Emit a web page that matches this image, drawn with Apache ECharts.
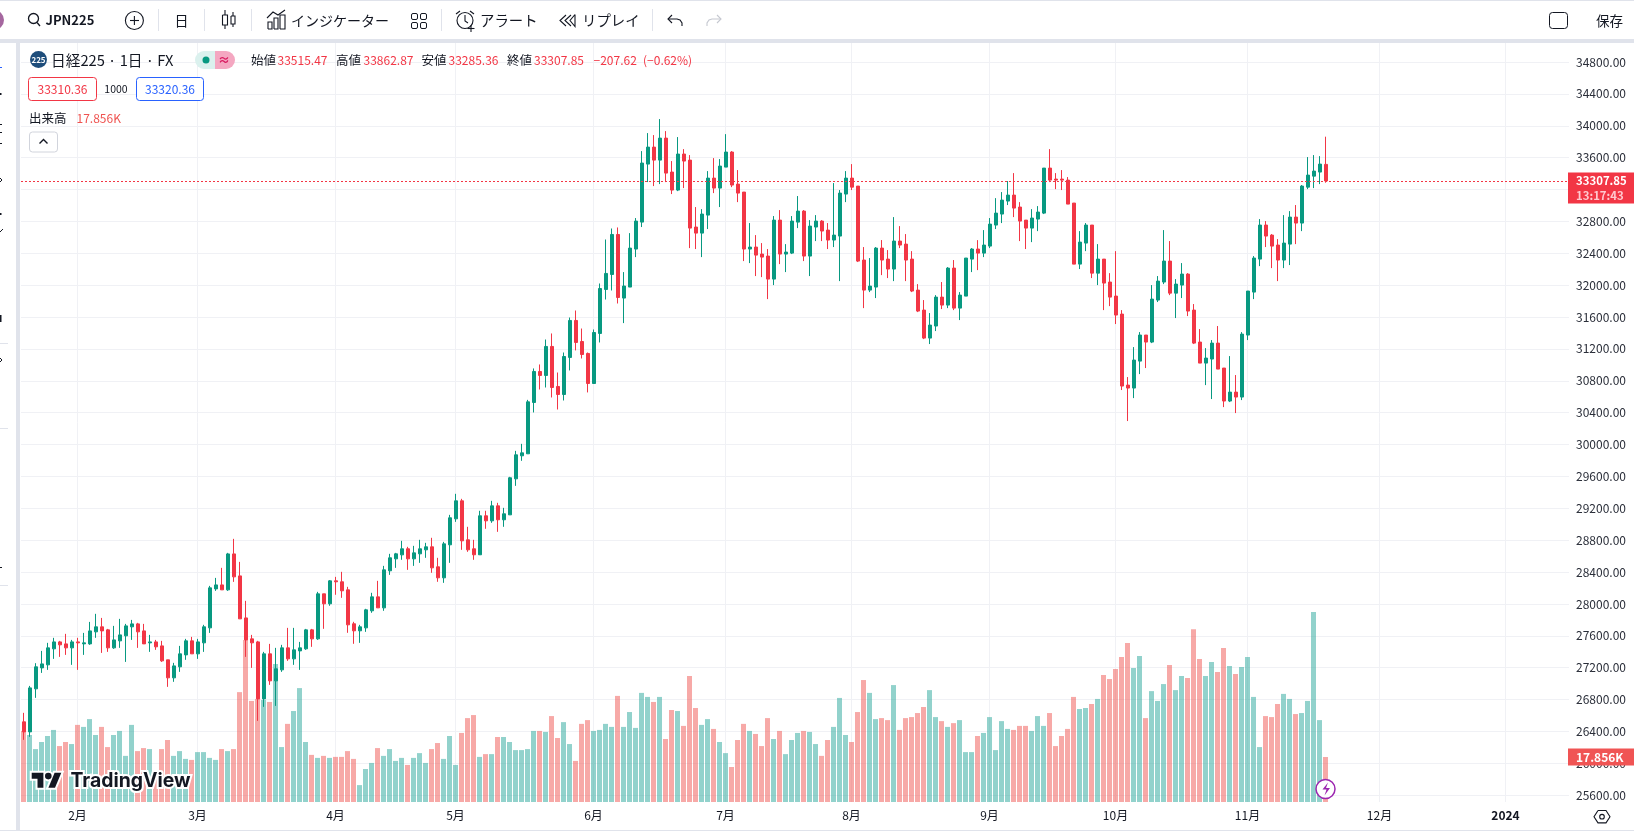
<!DOCTYPE html>
<html>
<head>
<meta charset="utf-8">
<title>日経225</title>
<script src="https://cdn.jsdelivr.net/npm/echarts@6/dist/echarts.min.js"></script>
<style>
html, body { margin: 0; padding: 0; background: #fff; overflow: hidden; }
#main { width: 1634px; height: 831px; }
</style>
</head>
<body>
<div id="main"></div>
<script>
var monthStarts = ['2023-02-01','2023-03-01','2023-04-03','2023-05-01','2023-06-01','2023-07-03','2023-08-01','2023-09-01','2023-10-02','2023-11-01','2023-12-01','2024-01-01'];
var monthLabels = ['2月','3月','4月','5月','6月','7月','8月','9月','10月','11月','12月','2024'];
var priceTicks = [25200, 35200, 400];

var opens = [26521,26395,26935,27198,27236,27437,27524,27499,27449,27524,27499,27499,27650,27713,27675,27449,27537,27600,27713,27750,
27662,27512,27524,27474,27299,27073,27211,27361,27537,27374,27512,27700,28189,28239,28177,28628,28352,27825,27562,27524,
26809,27374,27035,27173,27449,27311,27411,27437,27675,27562,28127,28002,28290,28278,28177,27751,27663,27700,27914,28089,
27951,28416,28566,28616,28692,28566,28629,28679,28717,28466,28328,28742,29068,29294,28805,28692,28617,29106,29043,29231,
29056,29118,29570,29859,29884,30528,30917,30867,31231,30729,30628,31093,31557,31293,31143,30766,31394,31946,32134,32636,
31838,31976,32453,32791,33519,33732,33569,33845,33419,33193,33645,33569,32729,32653,32879,33343,33218,33481,33670,33268,
33168,32453,32478,32390,32365,32076,32816,32390,32402,32791,32929,32365,32729,32804,32691,32566,32616,33143,33343,33243,
32315,31938,31976,32465,32327,32202,32553,32515,32327,31938,31687,31336,31487,31850,31750,32214,31712,31863,32327,32453,
32402,32490,32754,32892,33055,33130,32980,32816,32716,32829,32904,33469,33331,33331,33318,33030,32264,32528,32754,32151,
32327,32039,31863,31637,30746,30709,31047,31374,31286,31813,32039,32302,31900,32001,32139,31687,31286,31022,31073,31273,
30960,30546,30658,30596,31374,31913,32327,32754,32628,32503,32315,32515,32854,32779,33230,33368,33419,33515.47];
var closes = [26395,26947,27211,27248,27449,27524,27487,27449,27524,27512,27512,27662,27713,27662,27449,27549,27612,27725,27750,27650,
27499,27524,27462,27286,27073,27223,27374,27537,27374,27524,27713,28202,28239,28177,28628,28340,27813,27549,27512,26809,
27374,27035,27186,27449,27311,27424,27449,27675,27562,28127,28002,28290,28278,28165,27738,27663,27713,27926,28089,27951,
28428,28579,28629,28692,28566,28641,28692,28717,28453,28328,28754,29081,29294,28792,28679,28617,29106,29043,29231,29056,
29131,29583,29871,29896,30536,30917,30867,31231,30716,30628,31105,31557,31281,31130,30766,31406,31958,32147,32636,31845,
31989,32465,32804,33532,33732,33569,33845,33406,33193,33645,33557,32716,32653,32892,33343,33218,33494,33670,33256,33155,
32453,32478,32377,32352,32076,32816,32390,32415,32804,32929,32365,32741,32804,32679,32566,32628,33155,33343,33230,32302,
31938,31988,32465,32315,32202,32553,32503,32315,31926,31675,31336,31499,31850,31750,32214,31712,31875,32340,32453,32402,
32503,32766,32904,33067,33130,32967,32804,32716,32842,32917,33469,33318,33318,33318,33017,32264,32540,32754,32151,32327,
32026,31850,31625,30734,30709,31060,31374,31286,31825,32051,32302,31900,32013,32139,31675,31273,31022,31085,31273,30947,
30546,30658,30596,31386,31926,32340,32754,32616,32490,32315,32528,32854,32779,33243,33381,33431,33519,33307.85];
var lows = [26295,26333,26822,27135,27173,27311,27336,27361,27236,27173,27361,27487,27575,27386,27399,27437,27449,27273,27549,27449,
27499,27399,27424,27273,26960,27023,27148,27299,27374,27311,27399,27637,28164,28177,28164,28277,27813,27336,27198,26533,
26709,26985,26721,27148,27286,27236,27173,27424,27462,27549,27688,27977,28115,28077,27638,27500,27512,27650,27889,27951,
27914,28365,28453,28554,28428,28478,28516,28579,28391,28278,28265,28516,29030,28679,28654,28554,28617,28943,29018,28905,
28968,29118,29482,29796,29884,30403,30691,30716,30591,30440,30553,30930,31181,31080,30654,30766,31281,31820,31933,31770,
31524,31976,32352,32729,33293,33243,33268,33293,33143,33180,33218,32465,32453,32352,32704,33155,32980,33481,33230,33042,
32302,32277,32114,32101,31825,32001,32264,32164,32390,32716,32302,32114,32553,32553,32453,32478,32051,33042,33193,32290,
31712,31913,31838,32126,32089,32051,32465,32051,31913,31662,31323,31261,31424,31700,31712,31687,31562,31863,32164,32189,
32352,32465,32704,32779,33005,32854,32553,32453,32540,32678,32892,33293,33205,33193,33017,32264,32202,32427,32089,32001,
31687,31737,31512,30684,30295,30583,30884,30960,31273,31788,32013,31875,31587,31838,31612,31261,31022,30746,30571,30947,
30470,30533,30395,30558,31311,31825,32239,32478,32214,32051,32214,32252,32515,32678,33205,33218,33268,33285.36];
var highs = [26634,26972,27257,27411,27512,27575,27537,27625,27549,27575,27637,27775,27876,27825,27687,27725,27813,27750,27800,27763,
27750,27612,27549,27537,27299,27261,27474,27562,27587,27562,27738,28227,28327,28453,28641,28817,28528,28039,27612,27537,
27399,27499,27449,27487,27700,27700,27524,27687,27687,28152,28127,28300,28340,28403,28215,27776,27738,27939,28140,28290,
28478,28629,28641,28792,28717,28729,28805,28767,28830,28579,28779,29118,29382,29319,28968,28805,29169,29169,29294,29269,
29206,29595,29921,30009,30561,30955,31005,31318,31394,30904,31155,31594,31682,31456,31155,31444,32021,32573,32711,32724,
32164,32653,32842,33682,33908,33883,34084,33933,33557,33858,33707,33632,32980,32954,33431,33594,33582,33895,33682,33444,
33168,32779,32628,32528,32453,32867,32942,32515,32867,33118,32942,32816,32879,32816,32779,33281,33193,33431,33519,33243,
32478,32340,32478,32566,32440,32854,32741,32641,32427,32013,31813,31650,31875,32039,32227,32315,31913,32340,32465,32565,
32691,32842,33092,33168,33306,33406,33042,32816,32954,32992,33469,33707,33406,33444,33356,33030,32678,32779,32754,32515,
32327,32151,32427,31687,30847,31223,31411,31374,32001,32114,32691,32553,32076,32277,32151,31763,31449,31210,31311,31487,
30960,31110,30872,31411,31926,32365,32829,32804,32641,32578,32879,32929,33005,33256,33607,33632,33619,33862.87];
var volumes = [28.2,26.6,21.0,23.8,26.2,28.6,22.2,23.8,23.0,30.6,29.8,32.9,26.6,29.8,21.8,26.6,28.2,18.3,30.6,20.2,
21.4,21.0,12.7,21.0,24.6,18.3,20.2,17.1,16.7,19.8,19.8,17.5,16.7,21.0,20.2,21.0,43.6,64.3,40.1,40.9,
40.5,39.7,54.8,21.8,31.0,36.1,45.2,23.8,18.7,17.5,18.3,17.5,17.9,17.9,20.2,17.1,6.7,13.1,15.5,21.4,
18.3,21.0,16.3,17.5,14.7,17.5,19.4,15.5,21.0,23.4,17.1,26.2,14.7,27.4,33.3,34.5,17.9,19.0,19.0,25.8,
25.8,23.8,20.6,20.6,21.0,28.2,28.2,27.8,34.1,25.4,31.7,23.0,16.3,31.0,32.5,28.2,28.6,31.0,29.8,42.1,
29.8,35.7,29.4,43.3,41.7,39.7,41.7,25.0,36.5,36.1,30.2,50.0,37.3,30.6,32.9,29.0,23.8,19.4,13.9,24.6,
31.0,28.2,27.0,22.2,33.3,25.0,28.2,19.0,24.6,27.4,28.2,27.8,23.0,18.3,24.6,29.8,41.3,26.6,23.8,35.7,
48.4,43.3,32.9,33.3,32.5,46.4,28.6,33.3,33.7,35.3,37.7,44.4,33.7,32.1,29.8,31.3,32.5,19.8,19.8,26.2,
27.4,33.7,20.6,32.1,29.0,28.6,30.2,30.2,28.2,34.1,30.2,35.3,22.2,26.2,29.0,41.7,36.9,37.3,38.9,40.9,
50.4,48.8,52.8,57.5,63.1,53.2,57.9,33.3,44.0,40.1,46.8,54.4,44.4,50.0,49.2,68.6,56.7,50.0,55.6,51.6,
61.1,54.0,50.8,53.6,57.5,41.7,21.8,34.1,33.7,38.9,42.9,40.9,34.9,35.3,40.1,75.4,32.5,17.856];

var upColor = '#089981', downColor = '#f23645';
var textColor = '#131722', splitColor = '#f0f1f5', stripColor = '#e0e3eb';
var FONT = '"Noto Sans CJK JP", "Noto Sans", sans-serif';
var lastClose = closes[closes.length - 1];
var lastVolume = volumes[volumes.length - 1];

// 平日のカテゴリ、右側は将来の空き
var categories = [];
var d = new Date(Date.UTC(2023, 0, 19));
while (categories.length < 258) {
    if (d.getUTCDay() !== 0 && d.getUTCDay() !== 6) {
        categories.push(d.toISOString().slice(0, 10));
    }
    d.setUTCDate(d.getUTCDate() + 1);
}
var isMonthStart = function (index) {
    return monthStarts.indexOf(categories[index]) >= 0;
};

var candleData = [];
var volumeData = [];
for (var i = 0; i < opens.length; i++) {
    candleData.push([opens[i], closes[i], lows[i], highs[i]]);
    volumeData.push({
        value: volumes[i],
        itemStyle: { color: closes[i] >= opens[i] ? 'rgba(38,166,154,0.5)' : 'rgba(239,83,80,0.5)' }
    });
}

var TOP = 100;
function rect(x, y, w, h, fill, r, stroke) {
    return { type: 'rect', z: TOP, silent: true, shape: { x: x, y: y, width: w, height: h, r: r || 0 },
        style: { fill: fill, stroke: stroke || null, lineWidth: 1 } };
}
function circle(cx, cy, r, fill, stroke, lw) {
    return { type: 'circle', z: TOP, silent: true, shape: { cx: cx, cy: cy, r: r },
        style: { fill: fill, stroke: stroke || null, lineWidth: lw || 1 } };
}
// 折れ線の束をひとつのアイコンにする
function icon(lines, stroke, lw) {
    return { type: 'group', children: lines.map(function (pts) {
        return { type: 'polyline', z: TOP, silent: true, shape: { points: pts },
            style: { fill: 'none', stroke: stroke, lineWidth: lw || 1.1 } };
    }) };
}
function poly(pts, fill, stroke, lw, z) {
    return { type: 'polygon', z: z || TOP, silent: true, shape: { points: pts },
        style: { fill: fill, stroke: stroke || null, lineWidth: lw || 1 } };
}
function txt(x, y, s, color, size, weight, align) {
    return { type: 'text', z: TOP + 1, silent: true, x: x, y: y,
        style: { text: s, fill: color, align: align || 'left', verticalAlign: 'middle',
            font: (weight || 'normal') + ' ' + size + 'px ' + FONT } };
}
function sep(x) { return rect(x, 9, 1, 22, stripColor); }

var logoT = [[43.4,787.8],[37.5,787.8],[37.5,778.7],[31.7,778.7],[31.7,772.8],[43.4,772.8]];
var logoSlant = [[55,787.8],[48.4,787.8],[54.6,772.8],[61.3,772.8]];

var elements = [
    // 枠
    rect(0, 0, 1634, 39, '#fff'),
    rect(0, 0, 1634, 1, stripColor),
    rect(0, 39, 1634, 4, stripColor),
    rect(0, 43, 16, 788, '#fff'),
    rect(16, 39, 4, 792, stripColor),
    rect(20, 822, 1614, 8, '#fff'),
    rect(0, 830, 1634, 1, stripColor),
    // 上のツールバー
    circle(-6, 20, 10, '#a5679f'),
    circle(33.5, 18.5, 5, 'none', textColor, 1.3),
    icon([[[37,22.5],[40,26]]], textColor, 1.3),
    txt(45.5, 20.5, 'JPN225', textColor, 13, 'bold'),
    circle(134.4, 20.5, 9, 'none', textColor, 1.1),
    icon([[[134.4,16],[134.4,25]], [[130,20.5],[139,20.5]]], textColor),
    sep(158),
    txt(181.5, 20.5, '日', textColor, 14, 'normal', 'center'),
    sep(204),
    icon([[[225,10],[225,15]], [[225,25],[225,29]], [[222.5,15],[227.5,15],[227.5,25],[222.5,25],[222.5,15]],
        [[233,12],[233,16]], [[233,24],[233,27]], [[231,16],[235,16],[235,24],[231,24],[231,16]]], textColor),
    sep(251),
    icon([[[268,29],[268,22],[272,22],[272,29],[268,29]], [[274,29],[274,18],[278,18],[278,29],[274,29]],
        [[280,29],[280,15],[285,15],[285,29],[280,29]], [[267,18],[273,12],[278,15],[285,10]]], textColor),
    txt(291, 20.5, 'インジケーター', textColor, 14),
    rect(411.5, 13.5, 6, 6, 'none', 1.5, textColor),
    rect(420.5, 13.5, 6, 6, 'none', 1.5, textColor),
    rect(411.5, 22.5, 6, 6, 'none', 1.5, textColor),
    rect(420.5, 22.5, 6, 6, 'none', 1.5, textColor),
    sep(441),
    circle(465, 20.5, 8, 'none', textColor, 1.1),
    icon([[[465,15],[465,21],[468,23]], [[456,14],[460,11]], [[474,14],[470,11]], [[471,25],[471,32]], [[467.5,28.5],[474.5,28.5]]], textColor),
    txt(480, 20.5, 'アラート', textColor, 14.4),
    icon([[[566,15],[560,20.5],[566,26]], [[571,15],[565,20.5],[571,26]], [[575,14.5],[575,26.5],[570,20.5],[575,14.5]]], textColor),
    txt(582, 20.5, 'リプレイ', textColor, 14.4),
    sep(652),
    icon([[[672,15],[668,19],[672,23]], [[668,19],[677,19],[680,20],[682,23],[682,26]]], textColor),
    icon([[[717,15],[721,19],[717,23]], [[721,19],[712,19],[709,20],[707,23],[707,26]]], '#c5c8d0'),
    rect(1549.5, 12.5, 18, 16, 'none', 3, textColor),
    txt(1596, 20.5, '保存', textColor, 13.5),
    // 左のツールバーの切れ端
    rect(0, 343, 8, 1, stripColor),
    rect(0, 428, 8, 1, stripColor),
    rect(0, 585, 8, 1, stripColor),
    rect(0, 67, 2, 1, '#2962ff'),
    rect(0, 93, 1.5, 2, textColor),
    rect(0, 124, 2, 1, textColor),
    rect(0, 132, 2, 1, textColor),
    rect(0, 143, 2, 1, textColor),
    icon([[[0,178],[2,180],[0,182]]], textColor, 1),
    rect(0, 213, 1.5, 2, textColor),
    icon([[[0,232],[3,229]]], textColor, 1),
    rect(0, 315, 1.5, 7, textColor),
    icon([[[0,358],[2,360],[0,362]]], textColor, 1),
    rect(0, 567, 2, 1, textColor),
    // レジェンド
    circle(38.5, 59.5, 8.5, '#1e4d7b'),
    txt(38.5, 59.8, '225', '#fff', 8, 'bold', 'center'),
    txt(51, 60, '日経225 · 1日 · FX', textColor, 14.7),
    rect(195, 51, 20, 18, '#dbf1ee', [9, 0, 0, 9]),
    rect(215, 51, 20, 18, '#f4a7c1', [0, 9, 9, 0]),
    circle(206, 60, 3.5, upColor),
    txt(224, 60, '≈', '#d81b60', 12, 'bold', 'center'),
    txt(251, 60, '始値', textColor, 12.5),
    txt(277.5, 60, '33515.47', downColor, 12),
    txt(336, 60, '高値', textColor, 12.5),
    txt(363.5, 60, '33862.87', downColor, 12),
    txt(421.5, 60, '安値', textColor, 12.5),
    txt(448.5, 60, '33285.36', downColor, 12),
    txt(507, 60, '終値', textColor, 12.5),
    txt(534, 60, '33307.85', downColor, 12),
    txt(593.5, 60, '−207.62', downColor, 12),
    txt(643, 60, '(−0.62%)', downColor, 12),
    rect(28.5, 77.5, 68, 23, '#fff', 3, downColor),
    txt(62.5, 89, '33310.36', downColor, 12, 'normal', 'center'),
    txt(116, 89, '1000', textColor, 10.5, 'normal', 'center'),
    rect(136.5, 77.5, 67, 23, '#fff', 3, '#2962ff'),
    txt(170, 89, '33320.36', '#2962ff', 12, 'normal', 'center'),
    txt(29, 118, '出来高', textColor, 12.5),
    txt(76.5, 118, '17.856K', '#ef5350', 12),
    rect(29.5, 132, 28, 20, '#fff', 3, '#d1d4dc'),
    icon([[[39.5,143.5],[43.5,139.5],[47.5,143.5]]], textColor, 1.4),
    // ロゴと稲妻
    poly(logoT, '#fff', '#fff', 4),
    poly(logoSlant, '#fff', '#fff', 4),
    circle(48.3, 776.1, 3.3, '#fff', '#fff', 4),
    poly(logoT, textColor, null, 1, TOP + 1),
    poly(logoSlant, textColor, null, 1, TOP + 1),
    { type: 'circle', z: TOP + 1, silent: true, shape: { cx: 48.3, cy: 776.1, r: 3.3 }, style: { fill: textColor } },
    { type: 'text', z: TOP, silent: true, x: 70.5, y: 781,
        style: { text: 'TradingView', fill: textColor, stroke: '#fff', lineWidth: 4, strokeFirst: true,
            verticalAlign: 'middle', font: 'bold 19.4px Inter, sans-serif' } },
    circle(1325.5, 789, 9.5, '#fff', '#9c27b0', 1.5),
    poly([[1328,782.5],[1322.5,789.5],[1326.5,789.5],[1324.5,795.5],[1330,788],[1326,788]], '#9c27b0', null, 1, TOP + 1),
    // 右下の設定
    icon([[[1598,810.5],[1606,810.5],[1610,816.7],[1606,822.9],[1598,822.9],[1594,816.7],[1598,810.5]]], textColor),
    circle(1602, 816.7, 2.3, 'none', textColor, 1.1)
];

var myChart = echarts.init(document.getElementById('main'));

option = {
    animation: false,
    backgroundColor: '#fff',
    textStyle: { fontFamily: FONT },
    grid: [
        { left: 21, width: 1548, top: 30.12, height: 797 },
        { left: 20.5, width: 1548, top: 43, height: 759 }
    ],
    xAxis: [
        { type: 'category', gridIndex: 0, data: categories, show: false },
        {
            type: 'category', gridIndex: 1, data: categories,
            axisLine: { show: false },
            axisTick: { show: false },
            axisLabel: {
                interval: isMonthStart, margin: 7, fontSize: 12, color: textColor,
                formatter: function (value) {
                    var label = monthLabels[monthStarts.indexOf(value)];
                    return label === '2024' ? '{year|2024}' : label;
                },
                rich: { year: { fontWeight: 'bold', fontSize: 12, color: textColor } }
            },
            splitLine: { show: true, interval: isMonthStart, alignWithLabel: true, lineStyle: { color: splitColor } }
        }
    ],
    yAxis: [
        {
            type: 'value', gridIndex: 0, position: 'right',
            min: priceTicks[0], max: priceTicks[1], interval: priceTicks[2],
            axisLine: { show: false },
            axisTick: { show: false },
            axisLabel: {
                margin: 7, fontSize: 12, color: '#2a2e39',
                formatter: function (v) {
                    return (v <= priceTicks[0] || v >= priceTicks[1]) ? '' : v.toFixed(2);
                }
            },
            splitLine: { lineStyle: { color: splitColor } }
        },
        { type: 'value', gridIndex: 1, min: 0, max: 301.2, show: false }
    ],
    series: [
        {
            name: '出来高', type: 'bar', xAxisIndex: 1, yAxisIndex: 1, z: 2,
            data: volumeData, barWidth: 5,
            markLine: {
                silent: true, symbol: 'none',
                lineStyle: { color: 'rgba(0,0,0,0)', width: 0 },
                data: [{ yAxis: lastVolume }],
                label: {
                    show: true, position: 'end', distance: 0, offset: [-0.5, 0], color: '#fff', fontSize: 12, fontWeight: 'bold',
                    backgroundColor: '#f05454', padding: [1.5, 0, 1.5, 8], width: 58, lineHeight: 14,
                    formatter: '17.856K'
                }
            }
        },
        {
            name: '日経225', type: 'candlestick', xAxisIndex: 0, yAxisIndex: 0, z: 3,
            data: candleData, barWidth: 4,
            itemStyle: { color: upColor, color0: downColor, borderColor: upColor, borderColor0: downColor, borderWidth: 1 },
            markLine: {
                silent: true, symbol: 'none',
                lineStyle: { color: downColor, type: [2, 2], width: 1 },
                data: [{ yAxis: lastClose }],
                label: {
                    position: 'end', distance: 0, backgroundColor: downColor, padding: [1, 0, 1, 8],
                    width: 58, offset: [-1, 7.2],
                    formatter: '{a|' + lastClose.toFixed(2) + '}\n{b|13:17:43}',
                    rich: {
                        a: { color: '#fff', fontSize: 11.4, fontWeight: 'bold', lineHeight: 14.5 },
                        b: { color: '#ffc9cf', fontSize: 11.4, fontWeight: 'bold', lineHeight: 14.5 }
                    }
                }
            }
        }
    ],
    graphic: { elements: elements }
};

myChart.setOption(option);
</script>
</body>
</html>
